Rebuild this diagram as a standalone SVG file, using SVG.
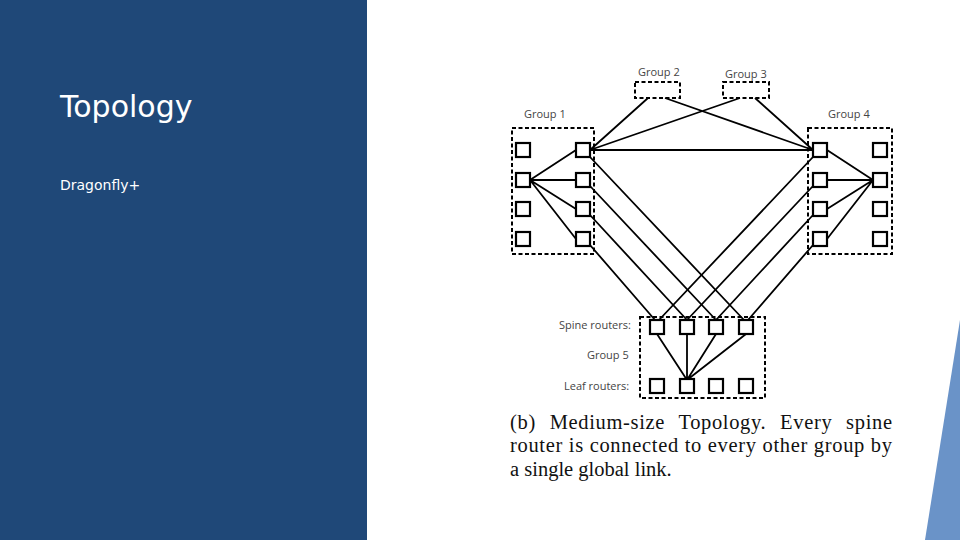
<svg xmlns="http://www.w3.org/2000/svg" width="960" height="540" viewBox="0 0 960 540">
<style>
.r{fill:#fff;stroke:#000;stroke-width:2.2}
.g{fill:none;stroke:#000;stroke-width:2;stroke-dasharray:4 2.5}
.l{stroke:#000;stroke-width:1.8;fill:none}
.s{font-family:"Open Sans","DejaVu Sans",sans-serif;font-size:11px;fill:#444}
.c{font-family:"Liberation Serif",serif;font-size:20.5px;fill:#111}
</style>
<rect width="960" height="540" fill="#fff"/>
<rect width="367" height="540" fill="#1f4878"/>
<polygon points="960,320 960,540 925,540" fill="#6a93c8"/>
<text x="60" y="117" font-family="'DejaVu Sans',sans-serif" font-size="30" fill="#fff">Topology</text>
<text x="60" y="190" font-family="'DejaVu Sans',sans-serif" font-size="14" fill="#fff">Dragonfly+</text>
<g id="connectors">
<path class="l" d="M648,98 L590,150 M665,98 L813,150 M740,98 L590,150 M755,98 L813,150 M590,150 H813"/>
<path class="l" d="M530,180 L576,150 M530,180 H576 M530,180 L576,209 M530,180 L576,239"/>
<path class="l" d="M873,180 L827,150 M873,180 H827 M873,180 L827,209 M873,180 L827,239"/>
<path class="l" d="M590,157 L744,320 M590,186 L716,320 M590,215 L687,320 M590,245 L655,320"/>
<path class="l" d="M813,157 L659,320 M813,186 L687,320 M813,215 L716,320 M813,245 L748,320"/>
<path class="l" d="M657,334 L687,380 M687,334 L687,380 M716,334 L687,380 M746,334 L687,380"/>
</g>
<g id="group1"><rect class="g" x="512" y="128" width="82" height="126"/><text class="s" x="524" y="118">Group 1</text>
<rect class="r" x="516" y="143" width="14" height="14"/><rect class="r" x="516" y="173" width="14" height="14"/><rect class="r" x="516" y="202" width="14" height="14"/><rect class="r" x="516" y="232" width="14" height="14"/>
<rect class="r" x="576" y="143" width="14" height="14"/><rect class="r" x="576" y="173" width="14" height="14"/><rect class="r" x="576" y="202" width="14" height="14"/><rect class="r" x="576" y="232" width="14" height="14"/></g>
<g id="group2"><rect class="g" x="635" y="82" width="45" height="16"/><text class="s" x="638" y="76">Group 2</text></g>
<g id="group3"><rect class="g" x="723" y="82" width="46" height="16"/><text class="s" x="725" y="78">Group 3</text></g>
<g id="group4"><rect class="g" x="808" y="128" width="84" height="126"/><text class="s" x="828" y="118">Group 4</text>
<rect class="r" x="813" y="143" width="14" height="14"/><rect class="r" x="813" y="173" width="14" height="14"/><rect class="r" x="813" y="202" width="14" height="14"/><rect class="r" x="813" y="232" width="14" height="14"/>
<rect class="r" x="873" y="143" width="14" height="14"/><rect class="r" x="873" y="173" width="14" height="14"/><rect class="r" x="873" y="202" width="14" height="14"/><rect class="r" x="873" y="232" width="14" height="14"/></g>
<g id="group5"><rect class="g" x="640" y="317" width="125" height="81"/>
<text class="s" x="559" y="329">Spine routers:</text><text class="s" x="587" y="359">Group 5</text><text class="s" x="564" y="390">Leaf routers:</text>
<rect class="r" x="650" y="320" width="14" height="14"/><rect class="r" x="680" y="320" width="14" height="14"/><rect class="r" x="709" y="320" width="14" height="14"/><rect class="r" x="739" y="320" width="14" height="14"/>
<rect class="r" x="650" y="379" width="14" height="14"/><rect class="r" x="680" y="379" width="14" height="14"/><rect class="r" x="709" y="379" width="14" height="14"/><rect class="r" x="739" y="379" width="14" height="14"/></g>
<text class="c" x="510" y="429" textLength="382" lengthAdjust="spacing" word-spacing="8">(b) Medium-size Topology. Every spine</text>
<text class="c" x="510" y="452" textLength="382" lengthAdjust="spacing">router is connected to every other group by</text>
<text class="c" x="510" y="476">a single global link.</text>
</svg>
